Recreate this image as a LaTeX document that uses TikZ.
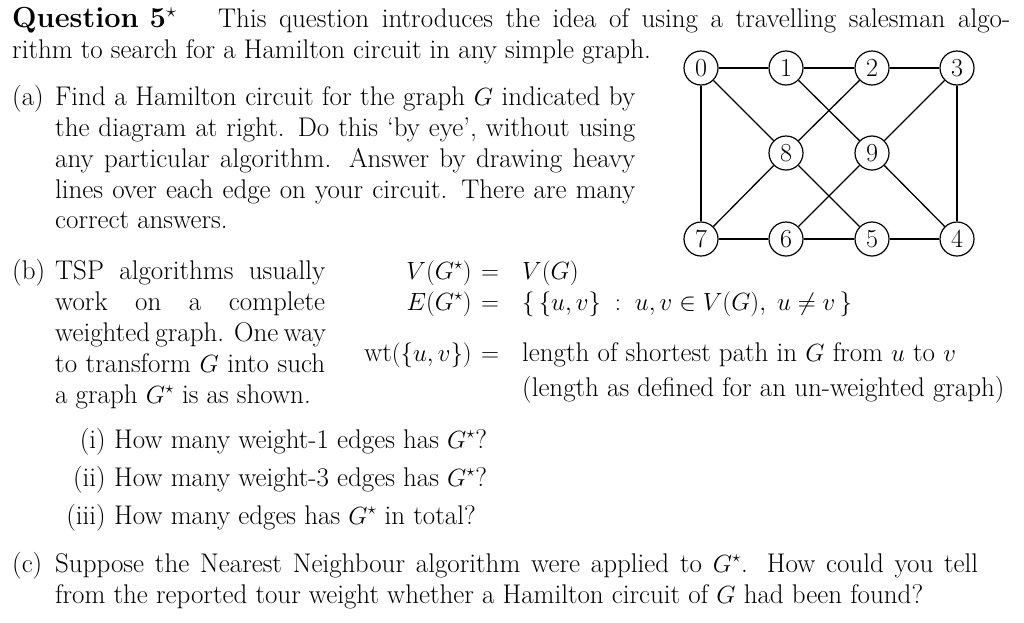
\documentclass[tikz,border=0pt]{standalone}
\usepackage{amssymb}
\newcommand{\jl}[4]{\node[anchor=base west,inner sep=0] at (#1,#2) {\makebox[#3pt][s]{#4}};}
\newcommand{\tl}[3]{\node[anchor=base west,inner sep=0] at (#1,#2) {#3};}
\begin{document}
\begin{tikzpicture}[x=1pt,y=-1pt,font=\fontsize{27}{32}\selectfont,
  vx/.style={circle,draw,line width=1.2pt,minimum size=34pt,inner sep=0,font=\fontsize{26}{28}\selectfont},
  ed/.style={line width=1.3pt}]
\useasboundingbox (0,0) rectangle (1024,622);
% graph
\node[vx] (0) at (701,68) {0};
\node[vx] (1) at (786,68) {1};
\node[vx] (2) at (872,68) {2};
\node[vx] (3) at (957,68) {3};
\node[vx] (8) at (786,153) {8};
\node[vx] (9) at (872,153) {9};
\node[vx] (7) at (701,239) {7};
\node[vx] (6) at (786,239) {6};
\node[vx] (5) at (872,239) {5};
\node[vx] (4) at (957,239) {4};
\foreach \a/\b in {0/1,1/2,2/3,0/7,3/4,7/6,6/5,5/4,0/8,1/9,2/8,3/9,8/7,8/5,9/6,9/4}
  \draw[ed] (\a) -- (\b);
% text
\tl{12}{27}{\fontsize{29}{32}\selectfont\bfseries Question 5$^\star$}
\jl{218}{27}{792}{This question introduces the idea of using a travelling salesman algo-}
\tl{12}{58}{rithm to search for a Hamilton circuit in any simple graph.}
\tl{12}{105}{(a)}
\jl{55}{105}{580}{Find a Hamilton circuit for the graph $G$ indicated by}
\jl{55}{136}{580}{the diagram at right. Do this `by eye', without using}
\jl{55}{167}{580}{any particular algorithm. Answer by drawing heavy}
\jl{55}{198}{580}{lines over each edge on your circuit. There are many}
\tl{55}{228}{correct answers.}
\tl{12}{279}{(b)}
\jl{55}{279}{270}{TSP algorithms usually}
\jl{55}{310}{270}{work on a complete}
\jl{55}{341}{270}{weighted graph. One way}
\jl{55}{372}{270}{to transform $G$ into such}
\tl{55}{403}{a graph $G^\star$ is as shown.}
\node[anchor=base east,inner sep=0] at (472,279) {$V(G^\star)$};
\node[anchor=base east,inner sep=0] at (472,310) {$E(G^\star)$};
\node[anchor=base east,inner sep=0] at (472,361) {wt$(\{u,v\})$};
\node[anchor=base,inner sep=0] at (490,279) {$=$};
\node[anchor=base,inner sep=0] at (490,310) {$=$};
\node[anchor=base,inner sep=0] at (490,361) {$=$};
\tl{522}{279}{$V(G)$}
\tl{522}{310}{$\{\,\{u,v\}\;:\;u,v\in V(G),\;u\neq v\,\}$}
\tl{522}{361}{length of shortest path in $G$ from $u$ to $v$}
\tl{522}{396}{(length as defined for an un-weighted graph)}
\node[anchor=base east,inner sep=0] at (106,448) {(i)};
\node[anchor=base east,inner sep=0] at (106,486) {(ii)};
\node[anchor=base east,inner sep=0] at (106,524) {(iii)};
\tl{114}{448}{How many weight-1 edges has $G^\star$?}
\tl{114}{486}{How many weight-3 edges has $G^\star$?}
\tl{114}{524}{How many edges has $G^\star$ in total?}
\tl{12}{572}{(c)}
\jl{55}{572}{923}{Suppose the Nearest Neighbour algorithm were applied to $G^\star$. How could you tell}
\tl{55}{603}{from the reported tour weight whether a Hamilton circuit of $G$ had been found?}
\end{tikzpicture}
\end{document}
